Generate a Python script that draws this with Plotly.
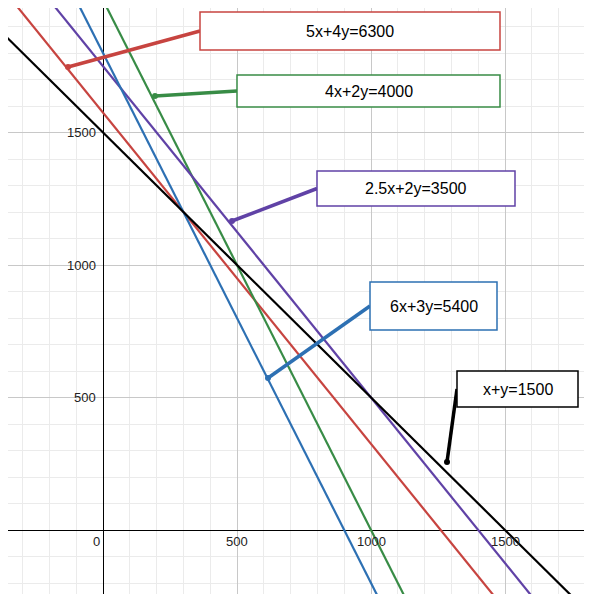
import plotly.graph_objects as go

# lines a*x + b*y = c
labels = ["5x+4y=6300", "4x+2y=4000", "2.5x+2y=3500", "6x+3y=5400", "x+y=1500"]
A = [5, 4, 2.5, 6, 1]
B = [4, 2, 2, 3, 1]
C = [6300, 4000, 3500, 5400, 1500]
colors = ["#c74440", "#388c46", "#6042a6", "#2d70b3", "#000000"]
xticks = [500, 1000, 1500]
yticks = [500, 1000, 1500, 2000]

def px2x(p): return (p - 103) * 500 / 134
def px2y(p): return (530 - p) * 500 / 132.5

OFF = 8  # page offset of the figure
X0, X1 = px2x(OFF), px2x(592 + OFF)
Y0, Y1 = px2y(594 + OFF), px2y(OFF)

# callouts: point pixel, box pixel (x0,x1,y0,y1)
callouts = [
    ((68, 67), (200, 500, 12, 50)),
    ((155, 96), (237, 500, 75, 107)),
    ((232, 221), (317, 515, 171, 206)),
    ((268, 378), (370, 497, 282, 330)),
    ((447, 462), (457, 578, 371, 407)),
]

fig = go.Figure()
xs = [X0 - 100, X1 + 100]
for a, b, c, col in zip(A, B, C, colors):
    fig.add_trace(go.Scatter(x=xs, y=[(c - a * x) / b for x in xs], mode="lines",
                             line=dict(color=col, width=2.2), hoverinfo="skip"))

shapes = []
annots = []
for lab, col, ((px, py), (bx0, bx1, by0, by1)) in zip(labels, colors, callouts):
    ym = (by0 + by1) / 2
    shapes.append(dict(type="line", x0=px2x(px), y0=px2y(py), x1=px2x(bx0), y1=px2y(ym),
                       line=dict(color=col, width=3.5)))
    shapes.append(dict(type="rect", x0=px2x(bx0), x1=px2x(bx1), y0=px2y(by1), y1=px2y(by0),
                       line=dict(color=col, width=1.5), fillcolor="white"))
    annots.append(dict(x=px2x((bx0 + bx1) / 2), y=px2y(ym), text=lab, showarrow=False,
                       font=dict(size=16, color="black", family="Arial")))
    fig.add_trace(go.Scatter(x=[px2x(px)], y=[px2y(py)], mode="markers",
                             marker=dict(color=col, size=6), hoverinfo="skip"))

tf = dict(size=13, color="#222", family="Arial")
for t in xticks:
    annots.append(dict(x=t, y=-45, text=str(t), showarrow=False, font=tf))
annots.append(dict(x=-25, y=-45, text="0", showarrow=False, font=tf))
for t in yticks:
    annots.append(dict(x=-18, y=t, text=str(t), showarrow=False, xanchor="right",
                       yanchor="middle", font=tf))

fig.update_layout(
    width=592, height=594, margin=dict(l=0, r=0, t=0, b=0),
    plot_bgcolor="white", paper_bgcolor="white", showlegend=False,
    shapes=shapes, annotations=annots,
    xaxis=dict(range=[X0, X1], dtick=500, tick0=0, showticklabels=False, gridcolor="#c8c8c8",
               minor=dict(dtick=100, gridcolor="#ebebeb", showgrid=True),
               zeroline=True, zerolinecolor="black", zerolinewidth=1.2),
    yaxis=dict(range=[Y0, Y1], dtick=500, tick0=0, showticklabels=False, gridcolor="#c8c8c8",
               minor=dict(dtick=100, gridcolor="#ebebeb", showgrid=True),
               zeroline=True, zerolinecolor="black", zerolinewidth=1.2),
)
fig.write_html("out.html")
